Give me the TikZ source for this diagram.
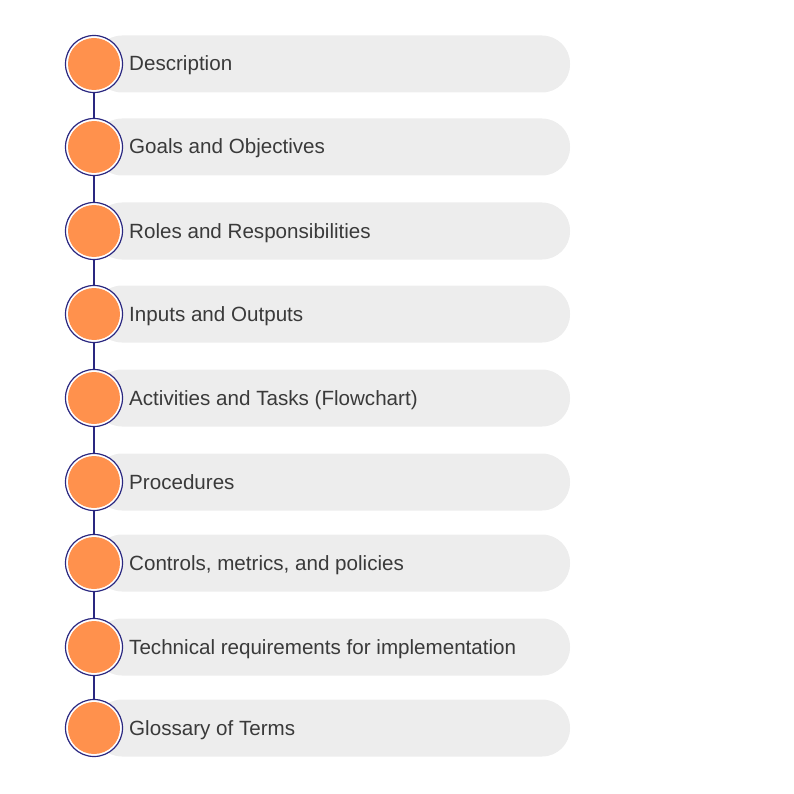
\documentclass[tikz,border=0pt]{standalone}
\usepackage{fontspec}
\setmainfont{Liberation Sans}
\usetikzlibrary{positioning}
\definecolor{barGray}{HTML}{EDEDED}
\definecolor{dotOrange}{HTML}{FF914D}
\definecolor{ringNavy}{HTML}{2A2780}
\definecolor{labelGray}{HTML}{3A3A3A}

\begin{document}
\begin{tikzpicture}[x=1pt,y=-1pt]
\tikzstyle{bar}=[rectangle,rounded corners=28pt,fill=barGray,minimum width=476pt,minimum height=57pt,inner sep=0pt]
\tikzstyle{ring}=[circle,draw=ringNavy,line width=1.2pt,fill=white,minimum size=57pt,inner sep=0pt]
\tikzstyle{dot}=[circle,fill=dotOrange,minimum size=52pt,inner sep=0pt]
\tikzstyle{label}=[anchor=base west,inner sep=0pt,text=labelGray,font=\fontsize{20.6}{24}\selectfont]
\useasboundingbox (0,0) rectangle (794,794);
% bars, rings and labels
\foreach \i/\y/\txt in {1/64/Description,
                        2/147/Goals and Objectives,
                        3/231/Roles and Responsibilities,
                        4/314/Inputs and Outputs,
                        5/398/Activities and Tasks (Flowchart),
                        6/482/Procedures,
                        7/563/{Controls, metrics, and policies},
                        8/647/Technical requirements for implementation,
                        9/728/Glossary of Terms}{
  \node[bar] at(332, \y) (bar\i) {};
  \node[ring] at(94, \y) (ring\i) {};
  \node[dot] at(94, \y) (dot\i) {};
  \node[label] at(129, \y+7) (label\i) {\txt};
}
% connectors
\foreach \i [evaluate=\i as \j using int(\i+1)] in {1,...,8}
  \draw[ringNavy,line width=1.2pt] (ring\i.south) -- (ring\j.north);
\end{tikzpicture}
\end{document}
